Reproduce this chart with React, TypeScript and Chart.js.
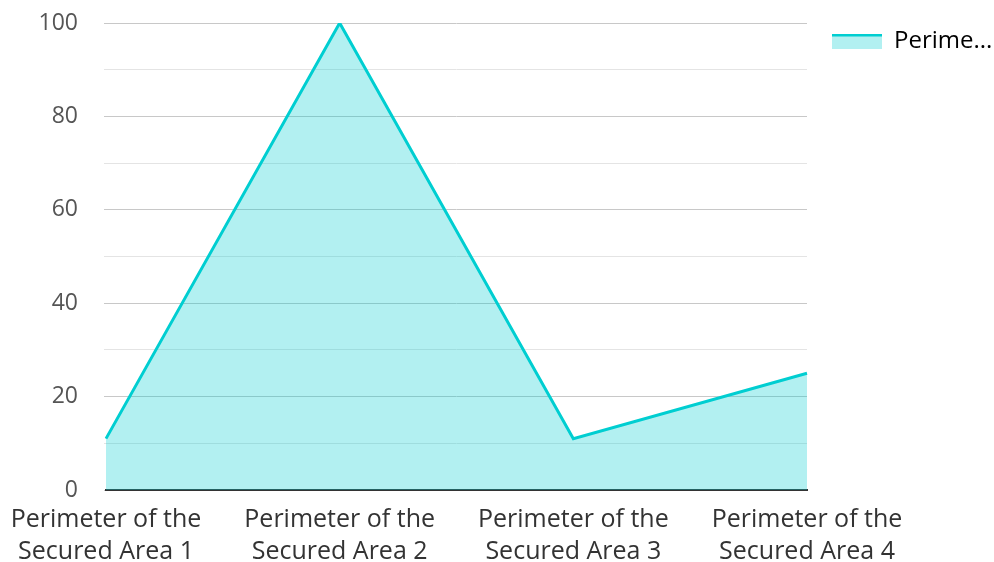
import React, { useEffect, useRef } from "react";
import { Chart, registerables } from "chart.js";

Chart.register(...registerables);

const categories: string[][] = [
  ["Perimeter of the", "Secured Area 1"],
  ["Perimeter of the", "Secured Area 2"],
  ["Perimeter of the", "Secured Area 3"],
  ["Perimeter of the", "Secured Area 4"],
];
const seriesName = "Perimeter of the Secured Area";
const legendText = "Perime...";
const values: number[] = [11, 100, 11, 25];

const LINE = "#00CED1";
const FILL = "rgba(0,206,209,0.3)";
const FONT = "'Open Sans', 'Noto Sans', sans-serif";

function makeLegendIcon(): HTMLCanvasElement {
  const c = document.createElement("canvas");
  c.width = 50;
  c.height = 15;
  const ctx = c.getContext("2d")!;
  ctx.fillStyle = FILL;
  ctx.fillRect(0, 0, 50, 15);
  ctx.fillStyle = LINE;
  ctx.fillRect(0, 0, 50, 3);
  return c;
}

const legendWidthPlugin = {
  id: "legendWidth",
  beforeLayout(chart: any) {
    const lg = chart.legend;
    if (lg && !lg.__patched) {
      const orig = lg.fit;
      lg.fit = function () {
        orig.call(this);
        this.width = 187;
      };
      lg.__patched = true;
    }
  },
  afterLayout(chart: any) {
    const lg = chart.legend;
    if (lg) {
      lg.top -= 19;
      lg.bottom -= 19;
    }
  },
};

export default function App() {
  const ref = useRef<HTMLCanvasElement>(null);
  useEffect(() => {
    if (!ref.current) return;
    const icon = makeLegendIcon();
    const chart = new Chart(ref.current, {
      type: "line",
      plugins: [legendWidthPlugin],
      data: {
        labels: categories,
        datasets: [
          {
            label: seriesName,
            data: values,
            borderColor: LINE,
            backgroundColor: FILL,
            borderWidth: 3,
            fill: "origin",
            tension: 0,
            pointRadius: 0,
            pointHoverRadius: 0,
          },
        ],
      },
      options: {
        responsive: false,
        animation: false,
        layout: { padding: { top: 23, left: 0, right: 0, bottom: 0 } },
        plugins: {
          tooltip: { enabled: false },
          legend: {
            position: "right",
            align: "start",
            labels: {
              usePointStyle: true,
              pointStyleWidth: 50,
              boxHeight: 15,
              padding: 25,
              color: "#333",
              font: { family: FONT, size: 24 },
              generateLabels: () => [
                {
                  text: legendText,
                  pointStyle: icon as any,
                  fillStyle: FILL,
                  strokeStyle: LINE,
                  lineWidth: 0,
                  hidden: false,
                  datasetIndex: 0,
                } as any,
              ],
            },
          },
        },
        scales: {
          x: {
            offset: false,
            grid: { display: false, drawTicks: false },
            border: { display: true, color: "#333", width: 2 },
            ticks: {
              color: "#333",
              maxRotation: 0,
              autoSkip: false,
              padding: 14,
              font: { family: FONT, size: 25, lineHeight: 1.28 },
            },
            afterFit: (s: any) => {
              s.height = 72;
              s.paddingLeft = 0;
              s.paddingRight = 0;
            },
          },
          y: {
            min: 0,
            max: 100,
            border: { display: false },
            grid: {
              drawTicks: true,
              tickLength: 2,
              lineWidth: 1,
              color: (ctx: any) =>
                ctx.tick && ctx.tick.value % 20 === 0 ? "#c8c8c8" : "#e4e4e4",
            },
            ticks: {
              stepSize: 10,
              color: "#555",
              padding: 26,
              font: { family: FONT, size: 23 },
              callback: (v: any) => (Number(v) % 20 === 0 ? String(v) : ""),
            },
            afterFit: (s: any) => {
              s.width = 106;
              s.paddingTop = 0;
              s.paddingBottom = 0;
            },
          },
        },
      },
    });
    return () => chart.destroy();
  }, []);
  return (
    <div style={{ position: "fixed", left: 0, top: 0, width: 994, height: 562, background: "#fff" }}>
      <canvas ref={ref} width={994} height={562} style={{ width: 994, height: 562 }} />
    </div>
  );
}
